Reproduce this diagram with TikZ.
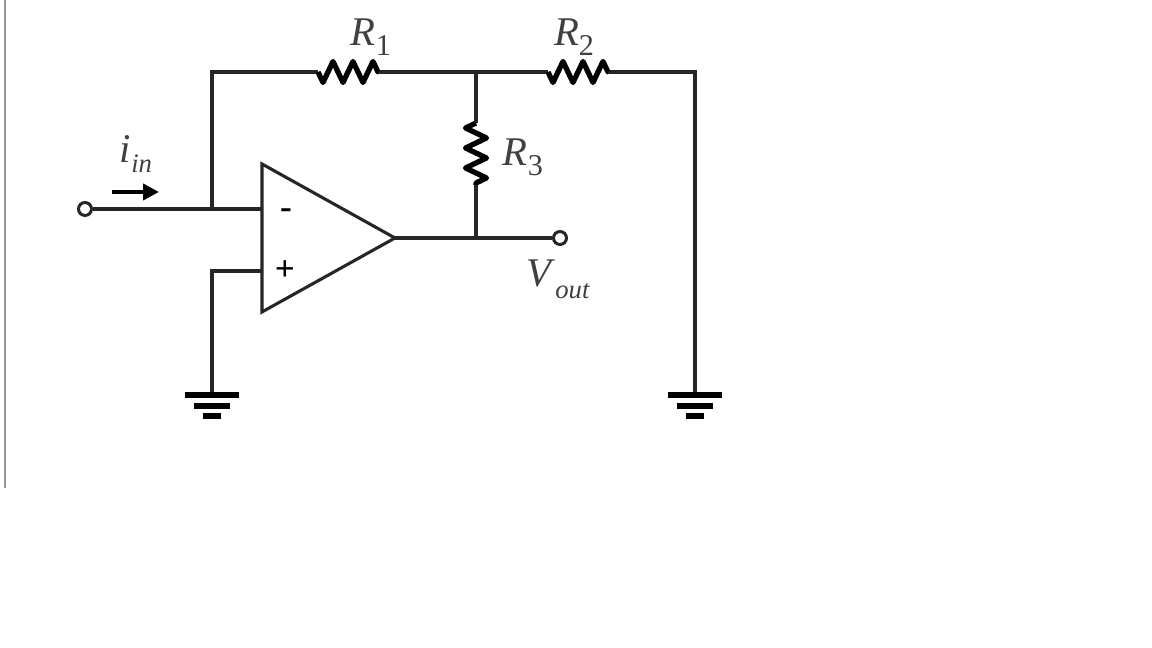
\documentclass[tikz,border=0pt]{standalone}
\usepackage{fontspec}
\setmainfont{Liberation Serif}
\usepackage{tikz}
\usetikzlibrary{positioning, arrows.meta, decorations.pathmorphing}
\tikzset{
  wire/.style={draw=black!85, line width=0.88pt},
  resistor/.style={draw=black, line width=1.5pt, line join=round, decorate,
    decoration={zigzag, segment length=0.2cm, amplitude=0.105cm, mirror}},
  terminal/.style={circle, draw=black!85, line width=0.85pt, fill=white, minimum size=0.13cm, inner sep=0pt},
  gndbar/.style={draw=black, line width=1.6pt},
  lbl/.style={text=black!75, inner sep=0pt, font=\fontsize{11.6}{14}\selectfont},
  sign/.style={text=black, inner sep=0pt, font=\fontsize{10}{12}\selectfont\bfseries}
}
\newcommand{\lblsub}[3][-0.55ex]{\textit{#2}\raisebox{#1}{\fontsize{8.6}{10}\selectfont #3}}
\newcommand{\lblsmall}[3][-0.8ex]{\textit{#2}\raisebox{#1}{\fontsize{7.6}{10}\selectfont\itshape #3}}
\begin{document}
\begin{tikzpicture}
\useasboundingbox (0,0) rectangle (11.52,6.48);
% page edge
\draw[black!40, line width=0.4pt] (0.05,6.48)--(0.05,1.60);

% op amp
\coordinate (oplt) at (2.62,4.84);
\coordinate (oplb) at (2.62,3.36);
\coordinate (opout) at (3.95,4.10);
\coordinate (opminus) at (2.62,4.39);
\coordinate (opplus) at (2.62,3.77);
\draw[wire] (oplt)--(opout)--(oplb)--cycle;
\node[sign] (minus) at (2.86,4.34) {-};
\node[sign] (plus) at (2.85,3.77) {+};

% terminals and junctions
\node[terminal] (vin) at (0.85,4.39) {};
\node[terminal] (vout) at (5.60,4.10) {};
\coordinate (inj) at (2.12,4.39);
\coordinate (topl) at (2.12,5.76);
\coordinate (topm) at (4.76,5.76);
\coordinate (topr) at (6.95,5.76);
\coordinate (outj) at (4.76,4.10);
\coordinate (gndl) at (2.12,2.53);
\coordinate (gndr) at (6.95,2.53);
\coordinate (plusl) at (2.12,3.77);

% resistor ends
\coordinate (r1a) at (3.18,5.76);
\coordinate (r1b) at (3.78,5.76);
\coordinate (r2a) at (5.48,5.76);
\coordinate (r2b) at (6.08,5.76);
\coordinate (r3a) at (4.76,5.25);
\coordinate (r3b) at (4.76,4.63);

% wires
\draw[wire] (vin)--(opminus);
\draw[wire] (inj)--(topl)--(r1a);
\draw[wire] (r1b)--(r2a);
\draw[wire] (r2b)--(topr)--(gndr);
\draw[wire] (topm)--(r3a);
\draw[wire] (r3b)--(outj);
\draw[wire] (opout)--(vout);
\draw[wire] (opplus)--(plusl)--(gndl);

% resistors
\draw[resistor] (r1a)--(r1b);
\draw[resistor] (r2a)--(r2b);
\draw[resistor] (r3a)--(r3b);

% grounds
\foreach \g in {gndl,gndr} {
  \draw[gndbar] ([xshift=-0.27cm]\g)--([xshift=0.27cm]\g);
  \draw[gndbar] ([xshift=-0.18cm,yshift=-0.11cm]\g)--([xshift=0.18cm,yshift=-0.11cm]\g);
  \draw[gndbar] ([xshift=-0.09cm,yshift=-0.21cm]\g)--([xshift=0.09cm,yshift=-0.21cm]\g);
}

% current arrow
\coordinate (iina) at (1.12,4.56);
\coordinate (iinb) at (1.59,4.56);
\draw[-{Triangle[length=0.16cm,width=0.16cm]},line width=1.2pt] (iina)--(iinb);

% labels
\node[lbl] (r1lbl) at (3.71,6.11) {\lblsub{R}{1}};
\node[lbl] (r2lbl) at (5.74,6.11) {\lblsub{R}{2}};
\node[lbl] (r3lbl) at (5.23,4.91) {\lblsub{R}{3}};
\node[lbl] (iinlbl) at (1.36,4.94) {\lblsmall[-0.5ex]{i}{in}};
\node[lbl] (voutlbl) at (5.58,3.69) {\lblsmall[-0.65ex]{V}{out}};
\end{tikzpicture}
\end{document}
